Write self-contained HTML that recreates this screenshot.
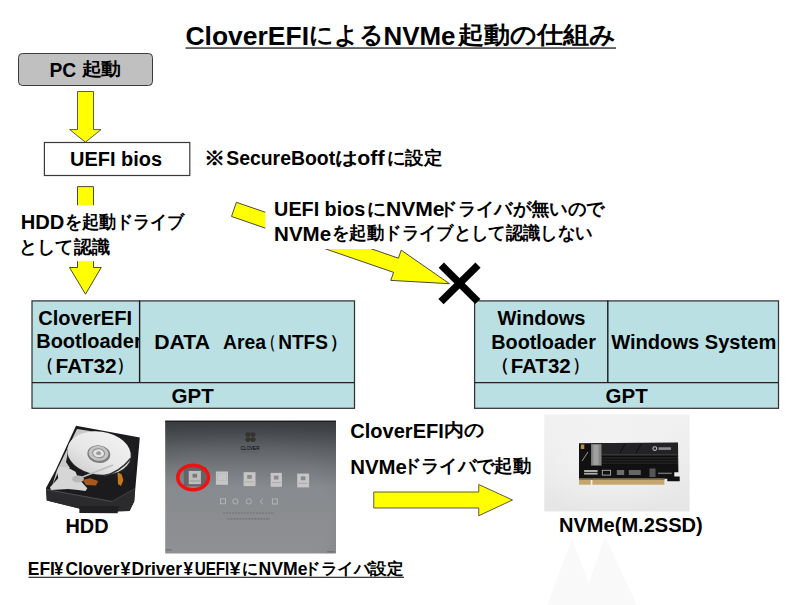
<!DOCTYPE html>
<html lang="ja">
<head>
<meta charset="utf-8">
<title>CloverEFIによるNVMe起動の仕組み</title>
<style>
html,body{margin:0;padding:0;background:#fff;}
body{width:800px;height:605px;overflow:hidden;position:relative;}
svg{position:absolute;left:0;top:0;display:block;}
text{font-family:"Liberation Sans",sans-serif;font-weight:bold;fill:#000;}
</style>
</head>
<body>
<svg width="800" height="605" viewBox="0 0 800 605">
<defs>
<linearGradient id="cg" x1="0" y1="0" x2="0" y2="1">
<stop offset="0" stop-color="#383b40"/>
<stop offset="0.08" stop-color="#464a4f"/>
<stop offset="0.2" stop-color="#5e6267"/>
<stop offset="0.35" stop-color="#75797d"/>
<stop offset="0.5" stop-color="#878a8e"/>
<stop offset="1" stop-color="#8f9093"/>
</linearGradient>
<radialGradient id="cg2" cx="0.45" cy="0.7" r="0.85">
<stop offset="0.6" stop-color="#303030" stop-opacity="0"/>
<stop offset="1" stop-color="#303030" stop-opacity="0.18"/>
</radialGradient>
<linearGradient id="ng" x1="0" y1="0" x2="0" y2="1">
<stop offset="0" stop-color="#f1f1f1"/>
<stop offset="0.5" stop-color="#ebebeb"/>
<stop offset="1" stop-color="#e5e5e6"/>
</linearGradient>
<radialGradient id="ng2" cx="0.45" cy="0.45" r="0.6">
<stop offset="0" stop-color="#f6f6f6" stop-opacity="0.8"/>
<stop offset="1" stop-color="#f6f6f6" stop-opacity="0"/>
</radialGradient>
<linearGradient id="plat" x1="0.8" y1="0" x2="0.2" y2="1">
<stop offset="0" stop-color="#f2f2f2"/>
<stop offset="0.6" stop-color="#e6e6e6"/>
<stop offset="1" stop-color="#cfcfcf"/>
</linearGradient>
<clipPath id="clipL"><rect x="0" y="290" width="139" height="100"/></clipPath>
</defs>
<rect x="0" y="0" width="800" height="605" fill="#fff"/>
<polygon points="572,538.7 597,605 547.5,605" fill="#f9f9f9"/><polygon points="605.2,537 636.7,605 580.7,605" fill="#f9f9f9"/>
<rect x="185.5" y="47.3" width="430.5" height="1.5" fill="#3a3a3a"/>
<rect x="18.5" y="53.5" width="134" height="32" rx="4" ry="4" fill="#c0c0c0" stroke="#3a3a3a" stroke-width="1"/>
<polygon points="77.5,91.5 93.5,91.5 93.5,129.6 101,129.6 85.4,142.2 69.7,129.6 77.5,129.6" fill="#ffff00" stroke="#333" stroke-width="0.8"/>
<rect x="44.4" y="142.5" width="145.4" height="33" fill="#fff" stroke="#3a3a3a" stroke-width="1.2"/>
<polygon points="77.5,186.6 93.5,186.6 93.5,267.5 101.2,267.5 85.5,294.2 69.5,267.5 77.5,267.5" fill="#ffff00" stroke="#2a2a2a" stroke-width="0.85"/>
<rect x="18" y="205.3" width="170" height="55.9" fill="#fff"/>
<g transform="translate(233.95,209.375) rotate(19.03)">
<polygon points="0,-7.5 171.4,-7.5 171.4,-16 228,0 171.4,16 171.4,7.5 0,7.5" fill="#ffff00" stroke="#333" stroke-width="0.8"/>
</g>
<rect x="265.3" y="195" width="345" height="54" fill="#fff"/>

<rect x="32" y="300.9" width="322.5" height="107.4" fill="#bbe0e3" stroke="#333" stroke-width="1.25"/>
<line x1="139.6" y1="300.5" x2="139.6" y2="382.5" stroke="#1a1a1a" stroke-width="1.4"/>
<line x1="32" y1="382.5" x2="354.5" y2="382.5" stroke="#222" stroke-width="1.25"/>
<rect x="474.6" y="300.9" width="303.9" height="107.4" fill="#bbe0e3" stroke="#333" stroke-width="1.25"/>
<line x1="607.8" y1="300.5" x2="607.8" y2="382.5" stroke="#1a1a1a" stroke-width="1.4"/>
<line x1="474.6" y1="382.5" x2="778.5" y2="382.5" stroke="#222" stroke-width="1.25"/>
<g stroke="#000" stroke-width="7.4" stroke-linecap="butt">
<line x1="441.3" y1="265.2" x2="477.8" y2="301.5"/>
<line x1="478" y1="265.2" x2="441" y2="301.6"/>
</g>
<g id="hdd">
<polygon points="76,425.8 139.8,437.6 136.5,475 134.2,501.6 129.5,511 93.4,512 46.8,500.5 46,488 55.7,470" fill="#1b1b1d"/>
<polygon points="77,429 100,432.5 80,442 68,452 66,462 70,468 60,468.5 52,486 57,470" fill="#c9c9c9"/>
<polygon points="90,431.5 136,440 134,470 128,476 118,470" fill="#1e1e20"/>
<ellipse cx="99.2" cy="454" rx="32.5" ry="21.5" transform="rotate(8 99.2 454)" fill="#2a2a2a"/>
<ellipse cx="99" cy="453" rx="32" ry="21.5" transform="rotate(8 99 453)" fill="url(#plat)"/>
<ellipse cx="98.8" cy="454.1" rx="11.5" ry="8.8" transform="rotate(8 98.8 454.1)" fill="#7c7c7c"/>
<ellipse cx="98.6" cy="453.4" rx="10" ry="7.4" transform="rotate(8 98.6 453.4)" fill="#c4c4c4"/>
<ellipse cx="98.6" cy="453.2" rx="6" ry="4.5" transform="rotate(8 98.6 453.2)" fill="#e2e2e2" stroke="#8a8a8a" stroke-width="1"/>
<ellipse cx="98.6" cy="453.2" rx="2.4" ry="1.9" fill="#9a9a9a"/>
<path d="M104,476 Q120,472 131,458" stroke="#333" stroke-width="1.6" fill="none"/>
<polygon points="59.1,466.8 67.3,467.3 75.5,471.8 78.2,478.2 87.3,488.2 85.5,490.9 78.2,490 68.2,489.1 50.9,490 50,487.3 58.2,478.2 57.3,470.9" fill="#d6d6d6"/>
<ellipse cx="78" cy="479" rx="6" ry="3.5" fill="#b8b8b8"/>
<line x1="80" y1="478" x2="113" y2="465" stroke="#bdbdbd" stroke-width="1.4"/>
<polygon points="82.7,480 90,478.2 98.2,481 96,485.5 86,485" fill="#a8581c"/>
<polygon points="117.5,472.6 121.5,474 123.4,480 121,486 118,484" fill="#c8781e"/>
<polygon points="46,489 112,501 135,488 134.2,501.6 129.5,511 93.4,512 46.8,500.5" fill="#2b2b2e"/>
<polygon points="79.4,506 119,506 117.6,513.2 79.4,513" fill="#202022"/><line x1="46" y1="489.5" x2="112" y2="501.5" stroke="#555" stroke-width="0.8"/><line x1="112" y1="501.5" x2="135" y2="488.5" stroke="#444" stroke-width="0.8"/>
</g>
<rect x="165.2" y="420.8" width="170.8" height="132.7" fill="url(#cg)"/>
<rect x="165.2" y="420.8" width="170.8" height="132.7" fill="url(#cg2)"/>
<line x1="165.2" y1="421.2" x2="336" y2="421.2" stroke="#111" stroke-width="1"/>
<g fill="#34332c">
<ellipse cx="248" cy="434.6" rx="2.6" ry="2.3"/><ellipse cx="253" cy="434.6" rx="2.6" ry="2.3"/>
<ellipse cx="248" cy="439.6" rx="2.6" ry="2.3"/><ellipse cx="253" cy="439.6" rx="2.6" ry="2.3"/>
</g>
<text x="250" y="450" font-size="5.6" text-anchor="middle" style="font-weight:normal" fill="#3c3c3c" textLength="19" lengthAdjust="spacingAndGlyphs">CLOVER</text>
<rect x="241" y="451.3" width="18" height="1.8" fill="#5a5a5a" opacity="0.45"/>
<rect x="183.8" y="467" width="22.4" height="19.3" fill="#626466"/>
<rect x="188.7" y="470.9" width="12.2" height="13.3" fill="#bdbdbd"/>
<rect x="192.5" y="473.8" width="4.6" height="3.8" fill="#7a7a7a"/>
<rect x="189.5" y="480.5" width="10.5" height="1" fill="#999"/>
<rect x="215.9" y="471.5" width="12.1" height="13.3" fill="#c6c6c6"/>
<rect x="217.5" y="473.5" width="9" height="7" fill="none" stroke="#b8b8b8" stroke-width="0.8"/>
<rect x="243.6" y="472.2" width="11.9" height="13.9" fill="#c6c6c6"/>
<rect x="270.7" y="472.9" width="11.2" height="13.9" fill="#c6c6c6"/>
<rect x="297.2" y="473.6" width="11.9" height="13.8" fill="#c6c6c6"/>
<g fill="#8a8a8a">
<rect x="247.2" y="475" width="4.6" height="3.8"/>
<rect x="273.9" y="475.7" width="4.6" height="3.8"/>
<rect x="300.8" y="476.4" width="4.6" height="3.8"/>
</g>
<g fill="#a8a8a8">
<rect x="245" y="481.5" width="9" height="0.9"/><rect x="272" y="482.2" width="8.6" height="0.9"/><rect x="298.6" y="482.9" width="9" height="0.9"/>
</g>
<ellipse cx="193.1" cy="477.5" rx="15.3" ry="12.2" fill="none" stroke="#f01010" stroke-width="3.6"/>
<g fill="none" stroke="#bdbdbd" stroke-width="0.8">
<rect x="220.5" y="498.8" width="5" height="5"/><circle cx="235.4" cy="501.4" r="2.6"/>
<circle cx="248.8" cy="501.4" r="2.6"/><path d="M263,498.5 L260,501.4 L263,504.3"/><rect x="272.3" y="499" width="5" height="5"/>
</g>
<line x1="223" y1="513" x2="274.4" y2="513" stroke="#505050" stroke-width="1.1" stroke-dasharray="2 1" opacity="0.45"/>
<line x1="227.3" y1="518.9" x2="270" y2="518.9" stroke="#505050" stroke-width="1.1" stroke-dasharray="2 1" opacity="0.45"/>
<rect x="165.5" y="549" width="6" height="1.5" fill="#666" opacity="0.6"/>
<rect x="327" y="551" width="7.5" height="1.5" fill="#666" opacity="0.6"/>
<polygon points="373.75,492 478.75,492 478.75,484.5 512.5,500 478.75,515.75 478.75,508 373.75,508" fill="#ffff00" stroke="#333" stroke-width="0.8"/>
<rect x="544.3" y="414.3" width="145.3" height="97.1" fill="url(#ng)"/>
<rect x="544.3" y="414.3" width="145.3" height="97.1" fill="url(#ng2)"/>
<path d="M579,443.3 L678,442.5 L678.4,472.2 L674.3,472.2 L674.3,476.4 L679.7,476.4 L679.7,481.3 L667.3,481.3 L667.3,478.8 L579,478.8 Z" fill="#111112"/>
<rect x="601.5" y="443" width="76.5" height="22" fill="#232325"/>
<g stroke="#0a0a0a" stroke-width="0.9">
<line x1="602" y1="456.5" x2="677" y2="456.5"/><line x1="602" y1="459.2" x2="677" y2="459.2"/>
<line x1="602" y1="461.9" x2="677" y2="461.9"/><line x1="602" y1="464.4" x2="677" y2="464.4"/>
<line x1="625" y1="444" x2="620" y2="453"/><line x1="641" y1="444" x2="636" y2="453"/>
</g>
<rect x="602" y="454" width="75.5" height="0.9" fill="#3a3a3c"/>
<rect x="591.1" y="444.1" width="10.4" height="21.5" fill="#858585"/>
<rect x="593.5" y="445" width="5" height="20" fill="#a0a0a0"/>
<rect x="580.8" y="444.5" width="3.5" height="4.5" fill="#b89040"/>
<path d="M582,461 L588,452" stroke="#bbb" stroke-width="0.8"/>
<g fill="#c8c8c8" opacity="0.85">
<rect x="584.1" y="470" width="13.5" height="2.2"/><rect x="584.1" y="473" width="13.5" height="1.6"/>
<rect x="602.3" y="470.3" width="8.3" height="4.8" fill="none" stroke="#ccc" stroke-width="0.9"/>
<rect x="616.8" y="470" width="7.4" height="5" opacity="0.6"/>
<rect x="628.8" y="470" width="12" height="5" opacity="0.55"/>
<rect x="649.5" y="468.5" width="6" height="8.5" opacity="0.45"/>
<rect x="658" y="472.6" width="13.8" height="1.5" opacity="0.6"/>
<circle cx="654.8" cy="448.6" r="1.9" fill="none" stroke="#ddd" stroke-width="1.1"/><rect x="658.5" y="447.3" width="12.5" height="2.6" opacity="0.75"/>
</g>
<rect x="579" y="478.8" width="11.7" height="5.9" fill="#c4a66e"/>
<rect x="592.4" y="478.8" width="72" height="5.9" fill="#c4a66e"/>
<rect x="579" y="478.8" width="85.4" height="1.2" fill="#8a7448"/>
<rect x="28.5" y="576.7" width="375.5" height="1.25" fill="#333"/>

<g>
<text x="185.48" y="45" font-size="26" textLength="123.52" lengthAdjust="spacingAndGlyphs">CloverEFI</text>
<text x="309.26" y="42.9" font-size="24.3" textLength="74.73" lengthAdjust="spacingAndGlyphs">による</text>
<text x="383.50" y="45" font-size="26" textLength="72.05" lengthAdjust="spacingAndGlyphs">NVMe</text>
<text x="457.50" y="42.9" font-size="24.3" textLength="158.38" lengthAdjust="spacingAndGlyphs">起動の仕組み</text>
<text x="49.39" y="76.7" font-size="20" textLength="26.78" lengthAdjust="spacingAndGlyphs">PC</text>
<text x="81.50" y="75.44" font-size="17.7" textLength="39.70" lengthAdjust="spacingAndGlyphs">起動</text>
<text x="70.00" y="166" font-size="20" textLength="92.03" lengthAdjust="spacingAndGlyphs">UEFI bios</text>
<text x="204.09" y="164.6" font-size="19.5" textLength="21.13" lengthAdjust="spacingAndGlyphs">※</text>
<text x="226.20" y="165.4" font-size="20" textLength="108.94" lengthAdjust="spacingAndGlyphs">SecureBoot</text>
<text x="335.04" y="164.14" font-size="17.7" textLength="22.72" lengthAdjust="spacingAndGlyphs">は</text>
<text x="357.30" y="165.4" font-size="20" textLength="27.22" lengthAdjust="spacingAndGlyphs">off</text>
<text x="386.98" y="164.14" font-size="17.7" textLength="55.25" lengthAdjust="spacingAndGlyphs">に設定</text>
<text x="20.79" y="229.1" font-size="20" textLength="43.65" lengthAdjust="spacingAndGlyphs">HDD</text>
<text x="64.55" y="227.84" font-size="17.7" textLength="119.80" lengthAdjust="spacingAndGlyphs">を起動ドライブ</text>
<text x="19.28" y="253.44" font-size="17.7" textLength="90.52" lengthAdjust="spacingAndGlyphs">として認識</text>
<text x="274.11" y="216.2" font-size="20" textLength="91.12" lengthAdjust="spacingAndGlyphs">UEFI bios</text>
<text x="367.20" y="214.94" font-size="17.7" textLength="18.96" lengthAdjust="spacingAndGlyphs">に</text>
<text x="385.94" y="216.2" font-size="20" textLength="58.67" lengthAdjust="spacingAndGlyphs">NVMe</text>
<text x="439.39" y="214.94" font-size="17.7" textLength="165.10" lengthAdjust="spacingAndGlyphs">ドライバが無いので</text>
<text x="274.07" y="240.6" font-size="20" textLength="57.02" lengthAdjust="spacingAndGlyphs">NVMe</text>
<text x="332.03" y="239.34" font-size="17.7" textLength="260.57" lengthAdjust="spacingAndGlyphs">を起動ドライブとして認識しない</text>
<text x="38.30" y="324.9" font-size="20" textLength="93.67" lengthAdjust="spacingAndGlyphs">CloverEFI</text>
<text x="36.20" y="348.3" font-size="20" textLength="105.56" lengthAdjust="spacingAndGlyphs" clip-path="url(#clipL)">Bootloader</text>
<text x="37.74" y="371.34" font-size="17.7" textLength="15.48" lengthAdjust="spacingAndGlyphs">（</text>
<text x="55.55" y="372.6" font-size="20" textLength="61.22" lengthAdjust="spacingAndGlyphs">FAT32</text>
<text x="117.38" y="371.34" font-size="17.7" textLength="15.48" lengthAdjust="spacingAndGlyphs">）</text>
<text x="154.19" y="349" font-size="20" textLength="55.83" lengthAdjust="spacingAndGlyphs">DATA</text>
<text x="223.10" y="349" font-size="20" textLength="43.00" lengthAdjust="spacingAndGlyphs">Area</text>
<text x="263.10" y="347.74" font-size="17.7" textLength="12.60" lengthAdjust="spacingAndGlyphs">（</text>
<text x="278.15" y="349" font-size="20" textLength="49.86" lengthAdjust="spacingAndGlyphs">NTFS</text>
<text x="330.12" y="347.74" font-size="17.7" textLength="16.92" lengthAdjust="spacingAndGlyphs">）</text>
<text x="171.47" y="402.6" font-size="20" textLength="42.26" lengthAdjust="spacingAndGlyphs">GPT</text>
<text x="497.60" y="324.9" font-size="20" textLength="87.90" lengthAdjust="spacingAndGlyphs">Windows</text>
<text x="491.21" y="348.8" font-size="20" textLength="104.66" lengthAdjust="spacingAndGlyphs">Bootloader</text>
<text x="492.24" y="371.34" font-size="17.7" textLength="17.28" lengthAdjust="spacingAndGlyphs">（</text>
<text x="510.67" y="372.6" font-size="20" textLength="60.09" lengthAdjust="spacingAndGlyphs">FAT32</text>
<text x="572.66" y="371.34" font-size="17.7" textLength="14.76" lengthAdjust="spacingAndGlyphs">）</text>
<text x="611.20" y="348.7" font-size="20" textLength="165.10" lengthAdjust="spacingAndGlyphs">Windows System</text>
<text x="605.58" y="402.6" font-size="20" textLength="42.15" lengthAdjust="spacingAndGlyphs">GPT</text>
<text x="65.40" y="532.8" font-size="20" textLength="43.14" lengthAdjust="spacingAndGlyphs">HDD</text>
<text x="350.25" y="437.5" font-size="20" textLength="93.62" lengthAdjust="spacingAndGlyphs">CloverEFI</text>
<text x="443.89" y="436.24" font-size="17.7" textLength="39.86" lengthAdjust="spacingAndGlyphs">内の</text>
<text x="350.23" y="473.75" font-size="20" textLength="56.61" lengthAdjust="spacingAndGlyphs">NVMe</text>
<text x="402.62" y="472.49" font-size="17.7" textLength="128.62" lengthAdjust="spacingAndGlyphs">ドライバで起動</text>
<text x="559.00" y="532.3" font-size="20" textLength="143.76" lengthAdjust="spacingAndGlyphs">NVMe(M.2SSD)</text>
<text x="27.78" y="574.7" font-size="18" textLength="27.10" lengthAdjust="spacingAndGlyphs">EFI</text>
<text x="54.25" y="574.7" font-size="18" textLength="9.01" lengthAdjust="spacingAndGlyphs">¥</text>
<text x="65.50" y="574.7" font-size="18" textLength="54.03" lengthAdjust="spacingAndGlyphs">Clover</text>
<text x="120.50" y="574.7" font-size="18" textLength="10.02" lengthAdjust="spacingAndGlyphs">¥</text>
<text x="131.53" y="574.7" font-size="18" textLength="50.50" lengthAdjust="spacingAndGlyphs">Driver</text>
<text x="183.50" y="574.7" font-size="18" textLength="9.51" lengthAdjust="spacingAndGlyphs">¥</text>
<text x="194.65" y="574.7" font-size="18" textLength="34.71" lengthAdjust="spacingAndGlyphs">UEFI</text>
<text x="229.50" y="574.7" font-size="18" textLength="11.02" lengthAdjust="spacingAndGlyphs">¥</text>
<text x="242.00" y="573.57" font-size="15.93" textLength="16.00" lengthAdjust="spacingAndGlyphs">に</text>
<text x="258.52" y="574.7" font-size="18" textLength="48.99" lengthAdjust="spacingAndGlyphs">NVMe</text>
<text x="304.34" y="573.57" font-size="15.93" textLength="99.16" lengthAdjust="spacingAndGlyphs">ドライバ設定</text>
</g>
</svg>
</body>
</html>
